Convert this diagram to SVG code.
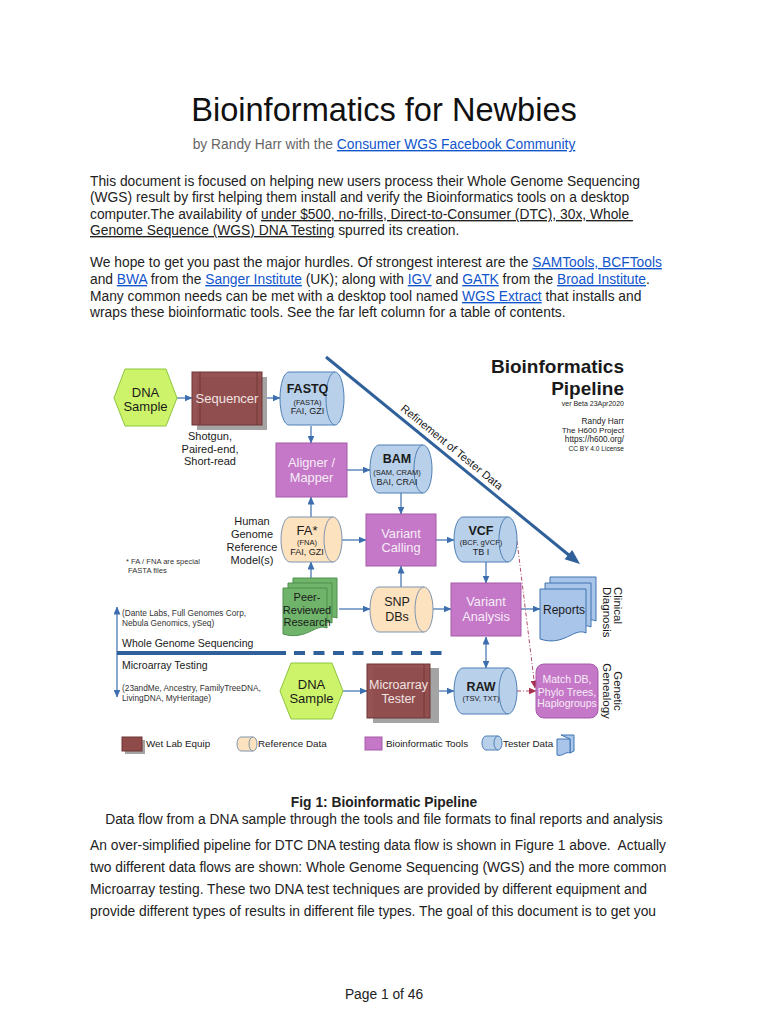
<svg xmlns="http://www.w3.org/2000/svg" width="768" height="1024" viewBox="0 0 768 1024">
<defs>
<style>
text{font-family:"Liberation Sans",Arial,sans-serif}
.body{font-size:13.8px;fill:#222}
.link{fill:#1155cc;text-decoration:underline}
.u{text-decoration:underline}
.c{stroke:#3d6eae;stroke-width:1.2;fill:none;marker-end:url(#ah)}
.c2{stroke:#3d6eae;stroke-width:1.2;fill:none;marker-start:url(#ah);marker-end:url(#ah)}
.d{stroke:#b0506e;stroke-width:1;fill:none;stroke-dasharray:4 2 1 2;marker-end:url(#ahr)}
.cyl{fill:#b8d0ea;stroke:#4f80b5;stroke-width:1}
.ref{fill:#fde2bf;stroke:#7f94b0;stroke-width:1}
.tool{fill:#c478c7;stroke:#a55aa8;stroke-width:1}
.wet{fill:#8f4a4a;stroke:#6e3434;stroke-width:1}
.shd{fill:#a4a4a4}
.hex{fill:#cdf36a;stroke:#8cc63f;stroke-width:1}
.grn{fill:#70b46b;stroke:#4e8f4e;stroke-width:1}
.bdoc{fill:#a9c6ea;stroke:#3f72b0;stroke-width:1}
.tw{fill:#f7ecf7;text-anchor:middle;font-size:12.8px}
.tk{fill:#1a1a1a;text-anchor:middle}
.hd{font-weight:bold;font-size:12.5px}
.sm{font-size:7.5px}
.md{font-size:9px}
.lg{font-size:9.8px;fill:#1a1a1a}
</style>
<marker id="ah" viewBox="0 0 8 7" refX="7.5" refY="3.5" markerWidth="8" markerHeight="7" markerUnits="userSpaceOnUse" orient="auto-start-reverse"><path d="M0,0 L8,3.5 L0,7 Z" fill="#3d6eae"/></marker>
<marker id="ahr" viewBox="0 0 8 7" refX="7.5" refY="3.5" markerWidth="8" markerHeight="7" markerUnits="userSpaceOnUse" orient="auto"><path d="M0,0 L8,3.5 L0,7 Z" fill="#a8304e"/></marker>
<path id="pg" d="M0,0 H46 V44 C34,38 24,58 0,50 Z"/>
<path id="pgs" d="M0,0 H44 V40 C33,35 23,53 0,46 Z"/>
</defs>
<rect width="768" height="1024" fill="#fff"/>

<g id="header">
<text x="384" y="121" font-size="32.6" text-anchor="middle" fill="#111">Bioinformatics for Newbies</text>
<text x="384" y="149" class="body" text-anchor="middle"><tspan fill="#666">by Randy Harr with the </tspan><tspan class="link">Consumer WGS Facebook Community</tspan></text>
</g>

<g id="para1" class="body">
<text x="90" y="186" class="body">This document is focused on helping new users process their Whole Genome Sequencing</text>
<text x="90" y="202" class="body">(WGS) result by first helping them install and verify the Bioinformatics tools on a desktop</text>
<text x="90" y="219" class="body">computer.The availability of <tspan class="u">under $500, no-frills, Direct-to-Consumer (DTC), 30x, Whole&#160;</tspan></text>
<text x="90" y="235" class="body"><tspan class="u">Genome Sequence (WGS) DNA Testing</tspan> spurred its creation.</text>
</g>

<g id="para2">
<text x="90" y="267" class="body">We hope to get you past the major hurdles. Of strongest interest are the <tspan class="link">SAMTools, BCFTools</tspan></text>
<text x="90" y="284" class="body">and <tspan class="link">BWA</tspan> from the <tspan class="link">Sanger Institute</tspan> (UK); along with <tspan class="link">IGV</tspan> and <tspan class="link">GATK</tspan> from the <tspan class="link">Broad Institute</tspan>.</text>
<text x="90" y="301" class="body">Many common needs can be met with a desktop tool named <tspan class="link">WGS Extract</tspan> that installs and</text>
<text x="90" y="317" class="body">wraps these bioinformatic tools. See the far left column for a table of contents.</text>
</g>

<g id="diagram-title">
<text x="624" y="373" font-size="19" font-weight="bold" text-anchor="end" fill="#1a1a1a">Bioinformatics</text>
<text x="624" y="395" font-size="19" font-weight="bold" text-anchor="end" fill="#1a1a1a">Pipeline</text>
<text x="624" y="406" font-size="7" text-anchor="end" fill="#222">ver Beta 23Apr2020</text>
<text x="624" y="424" font-size="8.3" text-anchor="end" fill="#222">Randy Harr</text>
<text x="624" y="433" font-size="8" text-anchor="end" fill="#222">The H600 Project</text>
<text x="624" y="442" font-size="8.2" text-anchor="end" fill="#222">https://h600.org/</text>
<text x="624" y="451" font-size="6.6" text-anchor="end" fill="#222">CC BY 4.0 License</text>
</g>

<g id="refinement">
<line x1="326" y1="357" x2="570" y2="556" stroke="#2f609a" stroke-width="3"/>
<polygon points="580,564 564.6,559.2 572.2,549.9" fill="#2f609a"/>
<text transform="translate(449.5,450) rotate(39.2)" font-size="11" text-anchor="middle" fill="#1a1a1a">Refinement of Tester Data</text>
</g>

<g id="connectors">
<line class="c" x1="177" y1="398" x2="192" y2="398"/>
<line class="c" x1="262" y1="398" x2="280" y2="398"/>
<line class="c" x1="311" y1="426" x2="311" y2="443"/>
<line class="c" x1="347" y1="470" x2="370" y2="470"/>
<line class="c" x1="401" y1="493" x2="401" y2="514"/>
<line class="c" x1="311" y1="517" x2="311" y2="497"/>
<line class="c" x1="342" y1="540" x2="366" y2="540"/>
<line class="c" x1="436" y1="540" x2="454" y2="540"/>
<line class="c" x1="311" y1="578" x2="311" y2="562"/>
<line class="c" x1="339" y1="609" x2="370" y2="609"/>
<line class="c" x1="401" y1="587" x2="401" y2="566"/>
<line class="c" x1="433" y1="609" x2="451" y2="609"/>
<line class="c" x1="486" y1="562" x2="486" y2="583"/>
<line class="c" x1="521" y1="609" x2="540" y2="609"/>
<line class="c2" x1="486" y1="637" x2="486" y2="668"/>
<line class="c" x1="343" y1="691" x2="367" y2="691"/>
<line class="c" x1="431" y1="691" x2="454" y2="691"/>
<line class="d" x1="517" y1="691" x2="536" y2="691"/>
<line class="d" x1="517" y1="541" x2="535" y2="688"/>
<line class="c2" x1="117" y1="607" x2="117" y2="697"/>
</g>

<g id="divider">
<line x1="117" y1="653" x2="286" y2="653" stroke="#2f609a" stroke-width="4"/>
<line x1="294" y1="653" x2="442" y2="653" stroke="#2f609a" stroke-width="4" stroke-dasharray="11 8.5"/>
<text x="122" y="616" font-size="8.3" fill="#333">(Dante Labs, Full Genomes Corp,</text>
<text x="122" y="626" font-size="8.3" fill="#333">Nebula Genomics, ySeq)</text>
<text x="122" y="647" font-size="10.5" fill="#1a1a1a">Whole Genome Sequencing</text>
<text x="122" y="669" font-size="10.5" fill="#1a1a1a">Microarray Testing</text>
<text x="122" y="691" font-size="8.3" fill="#333">(23andMe, Ancestry, FamilyTreeDNA,</text>
<text x="122" y="701" font-size="8.3" fill="#333">LivingDNA, MyHeritage)</text>
</g>

<g id="dna-sample-wgs">
<polygon class="hex" points="114,398 125,369 166,369 177,398 166,426 125,426"/>
<text class="tk" x="145.5" y="397" font-size="13">DNA</text>
<text class="tk" x="145.5" y="411" font-size="13">Sample</text>
</g>

<g id="sequencer">
<rect class="shd" x="197" y="377" width="70" height="53"/>
<rect class="wet" x="192" y="372" width="70" height="53" fill-opacity="0.95"/>
<line x1="200" y1="372" x2="200" y2="425" stroke="#6e3434" stroke-width="0.8"/>
<line x1="257" y1="372" x2="257" y2="425" stroke="#6e3434" stroke-width="0.8"/>
<text x="227" y="403" font-size="13" text-anchor="middle" fill="#f2e4e4">Sequencer</text>
</g>

<text id="shotgun-note" class="tk" font-size="11"><tspan x="210" y="440">Shotgun,</tspan><tspan x="210" y="453">Paired-end,</tspan><tspan x="210" y="465">Short-read</tspan></text>

<g id="fastq">
<path class="cyl" d="M289,372 H335 A9,26.5 0 0 1 335,425 H289 A9,26.5 0 0 1 289,372 Z"/>
<path class="cyl" fill="none" d="M335,372 A9,26.5 0 0 0 335,425"/>
<text class="tk hd" x="307.5" y="393">FASTQ</text>
<text class="tk sm" x="307.5" y="405">(FASTA)</text>
<text class="tk md" x="307.5" y="414">FAI, GZI</text>
</g>

<g id="aligner">
<rect class="tool" x="276" y="443" width="71" height="54"/>
<text class="tw" x="311.5" y="467">Aligner /</text>
<text class="tw" x="311.5" y="482">Mapper</text>
</g>

<g id="bam">
<path class="cyl" d="M379,445 H423 A9,24 0 0 1 423,493 H379 A9,24 0 0 1 379,445 Z"/>
<path class="cyl" fill="none" d="M423,445 A9,24 0 0 0 423,493"/>
<text class="tk hd" x="397" y="463">BAM</text>
<text class="tk sm" x="397" y="475">(SAM, CRAM)</text>
<text class="tk md" x="397" y="485">BAI, CRAI</text>
</g>

<text id="hg-label" class="tk" font-size="11"><tspan x="252" y="525">Human</tspan><tspan x="252" y="538">Genome</tspan><tspan x="252" y="551">Reference</tspan><tspan x="252" y="564">Model(s)</tspan></text>
<text id="fa-note" font-size="7.6" fill="#333"><tspan x="126" y="564">* FA / FNA are special</tspan><tspan x="128" y="573">FASTA files</tspan></text>

<g id="fa">
<path class="ref" d="M290,517 H333 A9,22.5 0 0 1 333,562 H290 A9,22.5 0 0 1 290,517 Z"/>
<path class="ref" fill="none" d="M333,517 A9,22.5 0 0 0 333,562"/>
<text class="tk" x="307" y="535" font-size="13">FA*</text>
<text class="tk sm" x="307" y="545">(FNA)</text>
<text class="tk md" x="307" y="555">FAI, GZI</text>
</g>

<g id="variant-calling">
<rect class="tool" x="366" y="514" width="70" height="52"/>
<text class="tw" x="401" y="538">Variant</text>
<text class="tw" x="401" y="552">Calling</text>
</g>

<g id="vcf">
<path class="cyl" d="M463,517 H508 A9,22.5 0 0 1 508,562 H463 A9,22.5 0 0 1 463,517 Z"/>
<path class="cyl" fill="none" d="M508,517 A9,22.5 0 0 0 508,562"/>
<text class="tk hd" x="481" y="535">VCF</text>
<text class="tk sm" x="481" y="545">(BCF, gVCF)</text>
<text class="tk md" x="481" y="555">TB I</text>
</g>

<g id="peer-reviewed">
<use href="#pgs" class="grn" x="293" y="578"/>
<use href="#pgs" class="grn" x="288" y="583"/>
<use href="#pgs" class="grn" x="283" y="588"/>
<text class="tk" font-size="11"><tspan x="307" y="601">Peer-</tspan><tspan x="307" y="614">Reviewed</tspan><tspan x="307" y="626">Research</tspan></text>
</g>

<g id="snp-dbs">
<path class="ref" d="M379,587 H424 A9,22.5 0 0 1 424,632 H379 A9,22.5 0 0 1 379,587 Z"/>
<path class="ref" fill="none" d="M424,587 A9,22.5 0 0 0 424,632"/>
<text class="tk" x="397" y="606" font-size="12.5">SNP</text>
<text class="tk" x="397" y="621" font-size="12.5">DBs</text>
</g>

<g id="variant-analysis">
<rect class="tool" x="451" y="583" width="70" height="53"/>
<text class="tw" x="486" y="606">Variant</text>
<text class="tw" x="486" y="621">Analysis</text>
</g>

<g id="reports">
<use href="#pg" class="bdoc" x="550" y="577"/>
<use href="#pg" class="bdoc" x="545" y="583"/>
<use href="#pg" class="bdoc" x="540" y="589"/>
<text class="tk" x="564" y="614" font-size="12">Reports</text>
</g>

<g id="clinical-label" font-size="11.5" fill="#1a1a1a">
<text transform="translate(614,587) rotate(90)">Clinical</text>
<text transform="translate(603,587) rotate(90)">Diagnosis</text>
</g>

<g id="dna-sample-micro">
<polygon class="hex" points="280,691 291,663 332,663 343,691 332,719 291,719"/>
<text class="tk" x="311.5" y="689" font-size="13">DNA</text>
<text class="tk" x="311.5" y="703" font-size="13">Sample</text>
</g>

<g id="microarray-tester">
<rect class="shd" x="373" y="668" width="66" height="55"/>
<rect class="wet" x="367" y="664" width="63" height="54" fill-opacity="0.95"/>
<line x1="424" y1="664" x2="424" y2="718" stroke="#6e3434" stroke-width="0.8"/>
<text x="398.5" y="689" font-size="12.5" text-anchor="middle" fill="#f2e4e4">Microarray</text>
<text x="398.5" y="703" font-size="12.5" text-anchor="middle" fill="#f2e4e4">Tester</text>
</g>

<g id="raw">
<path class="cyl" d="M463,668 H508 A9,23 0 0 1 508,714 H463 A9,23 0 0 1 463,668 Z"/>
<path class="cyl" fill="none" d="M508,668 A9,23 0 0 0 508,714"/>
<text class="tk hd" x="481" y="691">RAW</text>
<text class="tk sm" x="481" y="701">(TSV, TXT)</text>
</g>

<g id="match-db">
<rect class="tool" x="536" y="664" width="62" height="54" rx="8"/>
<text x="567" y="683" font-size="10.5" text-anchor="middle" fill="#f7ecf7">Match DB,</text>
<text x="567" y="696" font-size="10.5" text-anchor="middle" fill="#f7ecf7">Phylo Trees,</text>
<text x="567" y="707" font-size="10.5" text-anchor="middle" fill="#f7ecf7">Haplogroups</text>
</g>

<g id="genealogy-label" font-size="11.5" fill="#1a1a1a" text-anchor="middle">
<text transform="translate(614,691) rotate(90)">Genetic</text>
<text transform="translate(603,691) rotate(90)">Genealogy</text>
</g>

<g id="legend">
<rect class="shd" x="125" y="740" width="20" height="14"/>
<rect class="wet" x="122" y="737" width="20" height="14"/>
<text class="lg" x="146" y="747">Wet Lab Equip</text>
<path class="ref" d="M241,737 H253 A4,7 0 0 1 253,751 H241 A4,7 0 0 1 241,737 Z"/>
<path class="ref" fill="none" d="M253,737 A4,7 0 0 0 253,751"/>
<text class="lg" x="258" y="747">Reference Data</text>
<rect class="tool" x="365" y="737" width="17" height="13"/>
<text class="lg" x="386" y="747">Bioinformatic Tools</text>
<path class="cyl" d="M486,736 H498 A4,7 0 0 1 498,750 H486 A4,7 0 0 1 486,736 Z"/>
<path class="cyl" fill="none" d="M498,736 A4,7 0 0 0 498,750"/>
<text class="lg" x="503" y="747">Tester Data</text>
<path class="bdoc" d="M561,735 H574 V751 L570,753 V739 Z"/>
<path class="bdoc" d="M557,739 H570 V753 C566,751 562,757 557,755 Z"/>
</g>

<g id="caption">
<text x="384" y="807" class="body" font-weight="bold" text-anchor="middle" fill="#111">Fig 1: Bioinformatic Pipeline</text>
<text x="384" y="824" class="body" text-anchor="middle">Data flow from a DNA sample through the tools and file formats to final reports and analysis</text>
</g>

<g id="para3">
<text x="90" y="850" class="body">An over-simplified pipeline for DTC DNA testing data flow is shown in Figure 1 above.&#160; Actually</text>
<text x="90" y="872" class="body">two different data flows are shown: Whole Genome Sequencing (WGS) and the more common</text>
<text x="90" y="894" class="body">Microarray testing. These two DNA test techniques are provided by different equipment and</text>
<text x="90" y="916" class="body">provide different types of results in different file types. The goal of this document is to get you</text>
</g>

<text id="page-number" x="384" y="999" class="body" text-anchor="middle">Page 1 of 46</text>
</svg>
